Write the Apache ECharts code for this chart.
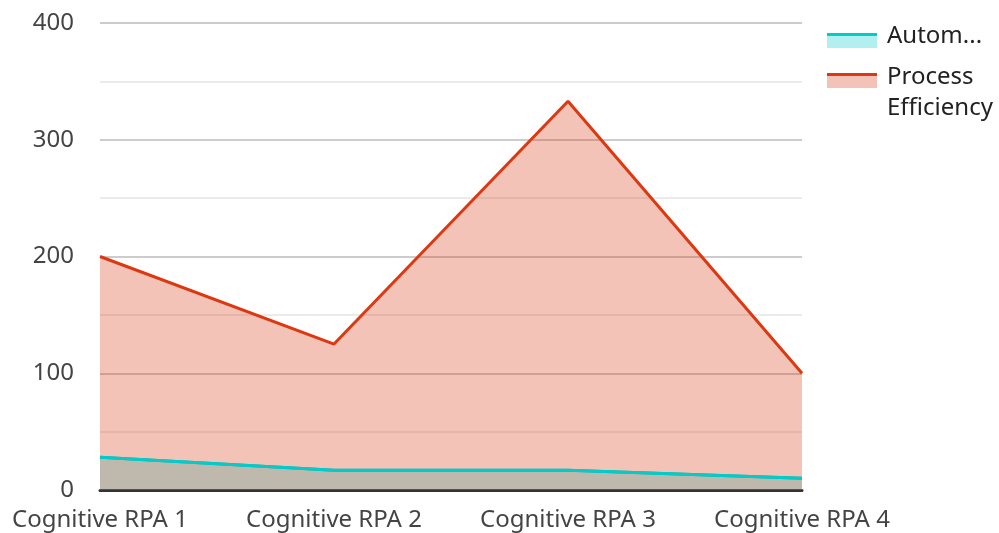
<!DOCTYPE html>
<html>
<head>
    <meta charset="utf-8">
    <title>Cognitive RPA</title>
    <script src="https://cdn.jsdelivr.net/npm/echarts@6/dist/echarts.min.js"></script>
    <style>
        * { margin: 0; padding: 0; }
        html, body { background: #fff; }
        #main { width: 999px; height: 533px; }
    </style>
</head>
<body>
<div id="main"></div>
<script>
    var categories = ['Cognitive RPA 1', 'Cognitive RPA 2', 'Cognitive RPA 3', 'Cognitive RPA 4'];
    var automationRate = [28, 17, 17, 10];
    var processEfficiency = [200, 125, 333, 100];
    var yTicks = [0, 100, 200, 300, 400];

    var tealName = 'Automation Rate';
    var redName = 'Process Efficiency';
    var teal = '#00cccc';
    var red = '#dc3912';
    var font = 'Noto Sans';

    var chart = echarts.init(document.getElementById('main'));
    var option = {
        animation: false,
        textStyle: { fontFamily: font },
        grid: { left: 100, right: 197, top: 23, bottom: 43 },
        // legend only lays out the text, swatches are drawn in graphic below
        legend: [
            {
                orient: 'vertical', left: 827, top: 21, padding: 0,
                itemWidth: 55, itemHeight: 15, itemGap: 0, icon: 'rect',
                selectedMode: false,
                textStyle: { fontFamily: font, fontSize: 24, color: '#222', lineHeight: 31 },
                data: [{
                    name: tealName,
                    itemStyle: { color: 'rgba(0,0,0,0)', borderWidth: 0 },
                    textStyle: { width: 100, overflow: 'truncate', ellipsis: '...' }
                }]
            },
            {
                orient: 'vertical', left: 827, top: 62, padding: 0,
                itemWidth: 55, itemHeight: 15, itemGap: 0, icon: 'rect',
                selectedMode: false,
                textStyle: { fontFamily: font, fontSize: 24, color: '#222', lineHeight: 31 },
                data: [{
                    name: redName,
                    itemStyle: { color: 'rgba(0,0,0,0)', borderWidth: 0 },
                    textStyle: { width: 110, overflow: 'break' }
                }]
            }
        ],
        graphic: [
            { type: 'rect', left: 827, top: 33, shape: { width: 50, height: 15 }, style: { fill: 'rgba(0,204,204,0.3)' }, z: 100 },
            { type: 'rect', left: 827, top: 33, shape: { width: 50, height: 3 }, style: { fill: teal }, z: 101 },
            { type: 'rect', left: 827, top: 73, shape: { width: 50, height: 15 }, style: { fill: 'rgba(220,57,18,0.3)' }, z: 100 },
            { type: 'rect', left: 827, top: 73, shape: { width: 50, height: 3 }, style: { fill: red }, z: 101 }
        ],
        xAxis: {
            type: 'category',
            data: categories,
            boundaryGap: false,
            axisLine: { lineStyle: { color: '#333', width: 3 } },
            axisTick: { show: false },
            axisLabel: { fontSize: 24, color: '#444', margin: 18, fontFamily: font },
            splitLine: { show: false }
        },
        yAxis: {
            type: 'value',
            min: yTicks[0],
            max: yTicks[yTicks.length - 1],
            interval: 100,
            axisLine: { show: false },
            axisTick: { show: false },
            axisLabel: { fontSize: 24, color: '#444', margin: 26, fontFamily: font },
            splitLine: { lineStyle: { color: '#cccccc', width: 2 } },
            minorTick: { show: false, splitNumber: 2 },
            minorSplitLine: { show: true, lineStyle: { color: '#ebebeb', width: 2 } }
        },
        series: [
            {
                name: tealName, type: 'line', data: automationRate,
                showSymbol: false, z: 2,
                lineStyle: { color: teal, width: 3 },
                itemStyle: { color: teal },
                areaStyle: { color: teal, opacity: 0.3 }
            },
            {
                name: redName, type: 'line', data: processEfficiency,
                showSymbol: false, z: 3,
                lineStyle: { color: red, width: 3 },
                itemStyle: { color: red },
                areaStyle: { color: red, opacity: 0.3 }
            },
            {
                // teal line again so it sits above the red area
                name: tealName + ' line', type: 'line', data: automationRate,
                showSymbol: false, z: 4,
                lineStyle: { color: teal, width: 3 },
                itemStyle: { color: teal }
            }
        ]
    };
    chart.setOption(option);
</script>
</body>
</html>
